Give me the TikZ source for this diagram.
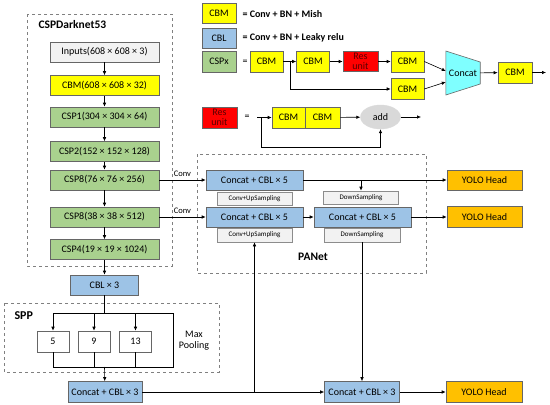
\documentclass[tikz,border=0pt]{standalone}
\usepackage{fontspec}
\setmainfont{Carlito}
\usepackage{xcolor}
\usepackage{tikz}
\usetikzlibrary{arrows.meta,shapes.geometric}

\definecolor{cbmfill}{HTML}{FFFF00}
\definecolor{cblfill}{HTML}{9DC3E6}
\definecolor{cspfill}{HTML}{A9D18E}
\definecolor{resfill}{HTML}{FF0000}
\definecolor{restext}{HTML}{5A0000}
\definecolor{yolofill}{HTML}{FFC000}
\definecolor{catfill}{HTML}{7FFFFF}
\definecolor{tagfill}{HTML}{F2F2F2}
\definecolor{framegray}{HTML}{808080}

\begin{document}
\begin{tikzpicture}[x=1pt, y=-1pt, font=\fontsize{10}{11}\selectfont,
  blk/.style={draw=black!60, line width=0.6pt, inner sep=0pt, minimum height=20pt, align=center},
  cbm/.style={blk, fill=cbmfill},
  cbl/.style={blk, fill=cblfill},
  csp/.style={blk, fill=cspfill, minimum width=109pt},
  res/.style={blk, fill=resfill, text=restext, font=\fontsize{10}{10}\selectfont},
  yolo/.style={blk, fill=yolofill, minimum width=75pt},
  tag/.style={blk, fill=tagfill, draw=black!45, minimum height=13pt, font=\fontsize{7}{8}\selectfont},
  pool/.style={blk, fill=white, minimum width=32pt, minimum height=21pt},
  group/.style={draw=framegray, dashed, line width=0.7pt},
  title/.style={font=\fontsize{11.5}{13}\bfseries\selectfont},
  arr/.style={-{Latex[length=4pt,width=3.5pt]}, line width=0.6pt},
  ln/.style={line width=0.6pt}]
  \useasboundingbox (0,0) rectangle (550,405);

  % Backbone
  \draw[group] (27,14) rectangle (172,266);
  \node[title, anchor=west] at (35,25) {CSPDarknet53};
  \node[blk, fill=tagfill, minimum width=109pt] (inp) at (104.5,52) {Inputs(608 × 608 × 3)};
  \node[cbm, minimum width=109pt] (cbm0) at (104.5,85.5) {CBM(608 × 608 × 32)};
  \node[csp] (csp1) at (104.5,117) {CSP1(304 × 304 × 64)};
  \node[csp] (csp2) at (104.5,151.5) {CSP2(152 × 152 × 128)};
  \node[csp] (csp8a) at (104.5,180) {CSP8(76 × 76 × 256)};
  \node[csp] (csp8b) at (104.5,217) {CSP8(38 × 38 × 512)};
  \node[csp] (csp4) at (104.5,249.5) {CSP4(19 × 19 × 1024)};
  \draw[arr] (inp) -- (cbm0);
  \draw[arr] (cbm0) -- (csp1);
  \draw[arr] (csp1) -- (csp2);
  \draw[arr] (csp2) -- (csp8a);
  \draw[arr] (csp8a) -- (csp8b);
  \draw[arr] (csp8b) -- (csp4);

  % SPP
  \node[cbl, minimum width=68pt] (cbl3) at (104.5,285) {CBL × 3};
  \draw[arr] (csp4) -- (cbl3);
  \draw[group] (4,303) rectangle (219,372);
  \node[title, font=\fontsize{12}{13}\bfseries\selectfont, anchor=west] at (11,316) {SPP};
  \node[pool] (p5) at (53,341.5) {5};
  \node[pool] (p9) at (94,341.5) {9};
  \node[pool] (p13) at (135.5,341.5) {13};
  \node[align=center] (maxp) at (194,341) {Max\\Pooling};
  \coordinate (spptop) at (104.5,313);
  \coordinate (sppright) at (173,313);
  \coordinate (sppbot) at (104.5,367);
  \draw[ln] (cbl3) -- (spptop);
  \draw[ln] (p5 |- spptop) -- (sppright) -- (sppright |- sppbot) -- (p5 |- sppbot);
  \draw[arr] (p5 |- spptop) -- (p5);
  \draw[arr] (p9 |- spptop) -- (p9);
  \draw[arr] (p13 |- spptop) -- (p13);
  \draw[ln] (p5) -- (p5 |- sppbot);
  \draw[ln] (p9) -- (p9 |- sppbot);
  \draw[ln] (p13) -- (p13 |- sppbot);
  \node[cbl, minimum width=74pt, minimum height=21pt] (catL) at (105,392) {Concat + CBL × 3};
  \draw[arr] (sppbot) -- (catL);

  % PANet
  \draw[group] (197,154) rectangle (426,273);
  \node[title] at (313,257) {PANet};
  \node[cbl, minimum width=97pt] (pan1) at (254.5,180) {Concat + CBL × 5};
  \node[tag, minimum width=75pt] (up1) at (254.5,198.5) {Conv+UpSampling};
  \node[cbl, minimum width=97pt] (pan2) at (254.5,217) {Concat + CBL × 5};
  \node[tag, minimum width=75pt, minimum height=14pt] (up2) at (254.5,235) {Conv+UpSampling};
  \node[cbl, minimum width=97pt] (pan3) at (362.5,217) {Concat + CBL × 5};
  \node[tag, minimum width=75pt] (down1) at (361,197.5) {DownSampling};
  \node[tag, minimum width=76pt, minimum height=14pt] (down2) at (362,235) {DownSampling};
  \draw[arr] (csp8a) -- (pan1) node[midway, above, font=\fontsize{8.5}{9}\selectfont] {Conv};
  \draw[arr] (csp8b) -- (pan2) node[midway, above, font=\fontsize{8.5}{9}\selectfont] {Conv};
  \draw[arr] (pan2) -- (pan3);
  \draw[arr] (pan1.east -| down1.north) -- (down1);

  % Heads
  \node[yolo] (yolo1) at (484.5,180) {YOLO Head};
  \node[yolo, minimum height=21pt] (yolo2) at (484.5,217) {YOLO Head};
  \node[cbl, minimum width=75pt, minimum height=21pt] (catM) at (362,392) {Concat + CBL × 3};
  \node[yolo, minimum width=76pt, minimum height=21pt] (yolo3) at (484,392) {YOLO Head};
  \draw[arr] (pan1) -- (yolo1);
  \draw[arr] (pan3) -- (yolo2);
  \draw[arr] (catL) -- (catM);
  \draw[arr] (catM) -- (yolo3);
  \draw[arr] (catL.east -| up2.south) -- (up2);
  \draw[arr] (down2) -- (catM);

  % Legend
  \node[cbm, minimum width=34pt] (lgcbm) at (219,13) {CBM};
  \node[anchor=west, font=\fontsize{10}{11}\bfseries\selectfont] at (239,14) {= Conv + BN + Mish};
  \node[cbl, minimum width=34pt] (lgcbl) at (219,38) {CBL};
  \node[anchor=west, font=\fontsize{10}{11}\bfseries\selectfont] at (239,38) {= Conv + BN + Leaky relu};
  \node[blk, fill=cspfill, minimum width=34pt, minimum height=21pt] (lgcsp) at (219,61.5) {CSPx};
  \node at (245,62) {=};
  \node[cbm, minimum width=33pt, minimum height=21pt] (c1) at (266.5,61.5) {CBM};
  \node[cbm, minimum width=33pt, minimum height=21pt] (c2) at (313,61.5) {CBM};
  \node[res, minimum width=35pt, minimum height=20pt] (res1) at (360.5,61.5) {Res\\unit};
  \node[cbm, minimum width=33pt, minimum height=21pt] (c3) at (407.5,61.5) {CBM};
  \node[cbm, minimum width=33pt, minimum height=21pt] (c4) at (407.5,89) {CBM};
  \node[minimum width=34pt, minimum height=22pt, inner sep=0pt] (cat) at (463,73) {};
  \draw[draw=black!60, fill=catfill, line width=0.6pt] ([yshift=22pt]cat.west) -- ([yshift=-22pt]cat.west)
    -- ([yshift=-11pt]cat.east) -- ([yshift=11pt]cat.east) -- cycle;
  \node at (cat) {Concat};
  \node[cbm, minimum width=34pt, minimum height=21pt] (c5) at (515,72.5) {CBM};
  \coordinate (cspsplit) at (290,61.5);
  \coordinate (cspout) at (546,72.5);
  \draw[arr] (c1) -- (c2);
  \draw[arr] (c2) -- (res1);
  \draw[arr] (res1) -- (c3);
  \draw[arr] (cspsplit) |- (c4);
  \draw[arr] (c3.east) -- ([yshift=2pt]cat.west);
  \draw[arr] (c4.east) -- ([yshift=-9pt]cat.west);
  \draw[arr] (cat) -- (c5);
  \draw[arr] (c5) -- (cspout);

  % Res unit
  \node[res, minimum width=35pt, minimum height=21pt] (res2) at (219.5,117.5) {Res\\unit};
  \node at (247,117) {=};
  \node[cbm, minimum width=33pt, minimum height=21pt] (c6) at (288.5,117.5) {CBM};
  \node[cbm, minimum width=35pt, minimum height=21pt] (c7) at (322.5,117.5) {CBM};
  \node[ellipse, draw=black!15, fill=black!15, minimum width=40pt, minimum height=24pt, inner sep=0pt] (add) at (380.5,117) {add};
  \coordinate (resin) at (257,117.5);
  \coordinate (resskip) at (261,117.5);
  \coordinate (resout) at (421,117);
  \draw[arr] (resin) -- (c6);
  \draw[arr] (c7) -- (add);
  \draw[arr] (resskip) -- ++(0,30) -| (add.south);
  \draw[arr] (add) -- (resout);
\end{tikzpicture}
\end{document}
